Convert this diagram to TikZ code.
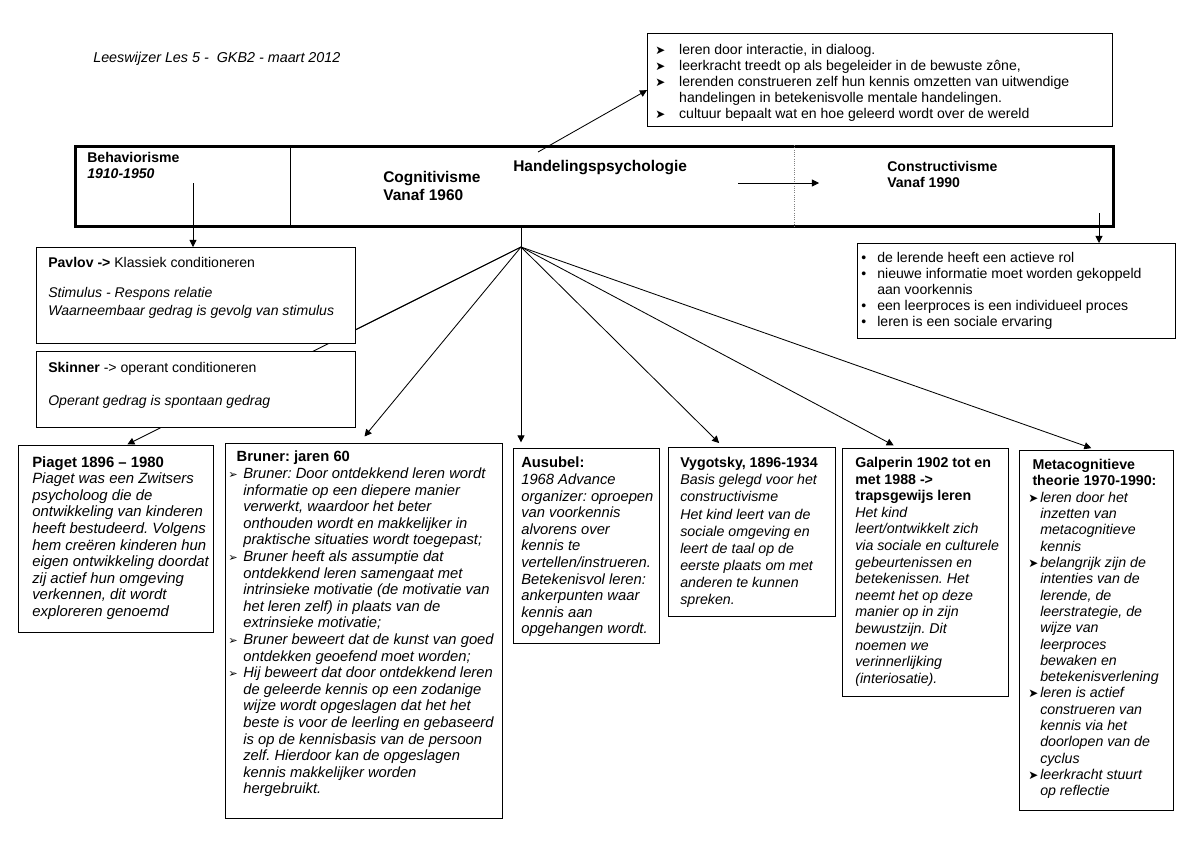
\documentclass[tikz,border=0pt]{standalone}
\usepackage{fontspec}
\setmainfont{Liberation Sans}
\newfontfamily\dingfont{DejaVu Sans}
\usetikzlibrary{calc,arrows.meta,backgrounds}
\frenchspacing
\newlength{\bw}
\newcommand{\sz}[2]{\fontsize{#1}{#2}\selectfont}
\newcommand{\tip}{{\dingfont\fontsize{8}{8}\selectfont ➢}}
\newcommand{\tipb}{{\dingfont\fontsize{8.5}{8.5}\selectfont ➤}}
\newcommand{\arw}{\makebox[\bw][l]{\tip}}
\newcommand{\arwb}{\makebox[\bw][l]{\tipb}}
\newcommand{\dotb}{\makebox[\bw][l]{•}}
\newcommand{\nxt}{\hspace*{\bw}}
\tikzset{
    frame/.style 2 args={
    rectangle,draw=black,fill=white,line width=0.9pt,inner sep=0pt,anchor=north west,
    minimum width=#1*0.025cm,minimum height=#2*0.025cm
    },
    banner/.style 2 args={
    frame={#1}{#2},line width=1.8pt
    },
    txt/.style={
    anchor=north west,inner sep=0pt,align=left,font=#1
    },
    head/.style={
    anchor=north west,inner sep=0pt,font=\itshape\sz{10.2}{12}
    },
    bul/.style={
    execute at begin node={\global\bw=#1}
    },
    link/.style={
    line width=0.6pt
    },
    arr/.style={
    line width=0.6pt,-{Triangle[length=5pt,width=5pt]}
    },
}
\begin{document}
\begin{tikzpicture}[x=0.025cm,y=-0.025cm]
  % header
  \node[head] (header) at (93,52) {Leeswijzer Les 5 - \ GKB2 - maart 2012};

  % banner with the four currents
  \node[banner={1038}{80}] (banner) at (74,145) {};
  \draw[link] ($(banner.north west)+(216,0)$) -- ($(banner.south west)+(216,0)$);
  \draw[link,densely dotted,gray] ($(banner.north west)+(720,0)$) -- ($(banner.south west)+(720,0)$);
  \node[txt=\bfseries\sz{10}{11.4}] (behav) at (87,152) {Behaviorisme\\\textit{1910-1950}};
  \node[txt=\bfseries\sz{11}{12.8}] (cogn) at (383,171) {Cognitivisme\\Vanaf 1960};
  \node[txt=\bfseries\sz{11}{12.8}] (handel) at (513,160) {Handelingspsychologie};
  \node[txt=\bfseries\sz{10}{11.4}] (constr) at (887,161) {Constructivisme\\Vanaf 1990};
  \coordinate (h1) at (738,183);
  \coordinate (h2) at (819,183);
  \draw[arr] (h1) -- (h2);

  % top box
  \node[frame={465}{93}] (topbox) at (647,33) {};
  \node[txt=\sz{10}{11.4},bul=17pt] (toptxt) at (655,44) {%
  \arwb leren door interactie, in dialoog.\\
  \arwb leerkracht treedt op als begeleider in de bewuste zône,\\
  \arwb lerenden construeren zelf hun kennis omzetten van uitwendige\\
  \nxt handelingen in betekenisvolle mentale handelingen.\\
  \arwb cultuur bepaalt wat en hoe geleerd wordt over de wereld};
  \coordinate (hstart) at (538,152);
  \draw[arr] (hstart) -- ($(topbox.west)+(0,10)$);

  % constructivisme box
  \node[frame={318}{95}] (cbox) at (857,243) {};
  \node[txt=\sz{10}{11.4},bul=11.4pt] (ctxt) at (861,252) {%
  \dotb de lerende heeft een actieve rol\\
  \dotb nieuwe informatie moet worden gekoppeld\\
  \nxt aan voorkennis\\
  \dotb een leerproces is een individueel proces\\
  \dotb leren is een sociale ervaring};
  \coordinate (cstart) at (1099,213);
  \draw[arr] (cstart) -- (cstart |- cbox.north);

  % behaviorisme boxes
  \node[frame={319}{96}] (pavlov) at (36,247) {};
  \node[txt=\sz{10}{12.8}] (pavtxt) at (48,257) {%
  \textbf{Pavlov ->} Klassiek conditioneren\\[8.5pt]
  \textit{Stimulus - Respons relatie}\\
  \textit{Waarneembaar gedrag is gevolg van stimulus}};
  \node[frame={319}{76}] (skinner) at (36,351) {};
  \node[txt=\sz{10}{12.8}] (skitxt) at (48,362) {%
  \textbf{Skinner} -> operant conditioneren\\[10.7pt]
  \textit{Operant gedrag is spontaan gedrag}};
  \coordinate (bstart) at (193,183);
  \draw[arr] (bstart) -- (bstart |- pavlov.north);

  % theorists
  \node[frame={195}{187}] (piaget) at (18,445) {};
  \node[txt=\sz{10.6}{11.8}] (piatxt) at (32,456) {%
  \textbf{Piaget 1896 – 1980}\\
  \textit{Piaget was een Zwitsers}\\
  \textit{psycholoog die de}\\
  \textit{ontwikkeling van kinderen}\\
  \textit{heeft bestudeerd. Volgens}\\
  \textit{hem creëren kinderen hun}\\
  \textit{eigen ontwikkeling doordat}\\
  \textit{zij actief hun omgeving}\\
  \textit{verkennen, dit wordt}\\
  \textit{exploreren genoemd}};

  \node[frame={277}{375}] (bruner) at (225,443) {};
  \node[txt=\sz{10.5}{11.8},bul=10.7pt] (brutxt) at (228,451) {%
  \hspace*{6pt}\textbf{Bruner: jaren 60}\\
  \arw\textit{Bruner: Door ontdekkend leren wordt}\\
  \nxt\textit{informatie op een diepere manier}\\
  \nxt\textit{verwerkt, waardoor het beter}\\
  \nxt\textit{onthouden wordt en makkelijker in}\\
  \nxt\textit{praktische situaties wordt toegepast;}\\
  \arw\textit{Bruner heeft als assumptie dat}\\
  \nxt\textit{ontdekkend leren samengaat met}\\
  \nxt\textit{intrinsieke motivatie (de motivatie van}\\
  \nxt\textit{het leren zelf) in plaats van de}\\
  \nxt\textit{extrinsieke motivatie;}\\
  \arw\textit{Bruner beweert dat de kunst van goed}\\
  \nxt\textit{ontdekken geoefend moet worden;}\\
  \arw\textit{Hij beweert dat door ontdekkend leren}\\
  \nxt\textit{de geleerde kennis op een zodanige}\\
  \nxt\textit{wijze wordt opgeslagen dat het het}\\
  \nxt\textit{beste is voor de leerling en gebaseerd}\\
  \nxt\textit{is op de kennisbasis van de persoon}\\
  \nxt\textit{zelf. Hierdoor kan de opgeslagen}\\
  \nxt\textit{kennis makkelijker worden}\\
  \nxt\textit{hergebruikt.}};

  \node[frame={146}{195}] (ausubel) at (513,448) {};
  \node[txt=\sz{10.5}{11.8}] (ausutxt) at (521,457) {%
  \textbf{Ausubel:}\\
  \textit{1968 Advance}\\
  \textit{organizer: oproepen}\\
  \textit{van voorkennis}\\
  \textit{alvorens over}\\
  \textit{kennis te}\\
  \textit{vertellen/instrueren.}\\
  \textit{Betekenisvol leren:}\\
  \textit{ankerpunten waar}\\
  \textit{kennis aan}\\
  \textit{opgehangen wordt.}};

  \node[frame={167}{169}] (vygotsky) at (668,447) {};
  \node[txt=\sz{10.1}{12.2}] (vygtxt) at (680,457) {%
  \textbf{Vygotsky, 1896-1934}\\
  \textit{Basis gelegd voor het}\\
  \textit{constructivisme}\\
  \textit{Het kind leert van de}\\
  \textit{sociale omgeving en}\\
  \textit{leert de taal op de}\\
  \textit{eerste plaats om met}\\
  \textit{anderen te kunnen}\\
  \textit{spreken.}};

  \node[frame={166}{248}] (galperin) at (842,448) {};
  \node[txt=\sz{10.1}{11.8}] (galtxt) at (855,457) {%
  \textbf{Galperin 1902 tot en}\\
  \textbf{met 1988 ->}\\
  \textbf{trapsgewijs leren}\\
  \textit{Het kind}\\
  \textit{leert/ontwikkelt zich}\\
  \textit{via sociale en culturele}\\
  \textit{gebeurtenissen en}\\
  \textit{betekenissen. Het}\\
  \textit{neemt het op deze}\\
  \textit{manier op in zijn}\\
  \textit{bewustzijn. Dit}\\
  \textit{noemen we}\\
  \textit{verinnerlijking}\\
  \textit{(interiosatie).}};

  \node[frame={154}{360}] (metacog) at (1019,450) {};
  \node[txt=\sz{10.1}{11.6},bul=8.5pt] (metatxt) at (1028,459) {%
  \hspace*{3pt}\textbf{Metacognitieve}\\
  \hspace*{3pt}\textbf{theorie 1970-1990:}\\
  \arwb\textit{leren door het}\\
  \nxt\textit{inzetten van}\\
  \nxt\textit{metacognitieve}\\
  \nxt\textit{kennis}\\
  \arwb\textit{belangrijk zijn de}\\
  \nxt\textit{intenties van de}\\
  \nxt\textit{lerende, de}\\
  \nxt\textit{leerstrategie, de}\\
  \nxt\textit{wijze van}\\
  \nxt\textit{leerproces}\\
  \nxt\textit{bewaken en}\\
  \nxt\textit{betekenisverlening}\\
  \arwb\textit{leren is actief}\\
  \nxt\textit{construeren van}\\
  \nxt\textit{kennis via het}\\
  \nxt\textit{doorlopen van de}\\
  \nxt\textit{cyclus}\\
  \arwb\textit{leerkracht stuurt}\\
  \nxt\textit{op reflectie}};

  % spokes from the banner
  \coordinate (hub) at (521,247);
  \begin{scope}[on background layer]
    \useasboundingbox[fill=white] (0,0) rectangle (1200,849);
    \draw[link] (hub |- banner.south) -- (hub);
    \draw[link] (hub) -- ($(pavlov.south east)+(0,-15)$);
    \draw[arr,shorten >=1pt] (hub) -- ($(piaget.north)+(10,0)$);
    \draw[arr,shorten >=6pt] (hub) -- ($(bruner.north)+(-5,0)$);
    \draw[arr,shorten >=4pt] (hub) -- (hub |- ausubel.north);
    \draw[arr,shorten >=4pt] (hub) -- ($(vygotsky.north)+(-29,0)$);
    \draw[arr,shorten >=4pt] (hub) -- ($(galperin.north)+(-27,0)$);
    \draw[arr,shorten >=4pt] (hub) -- (metacog.north);
  \end{scope}
\end{tikzpicture}
\end{document}
